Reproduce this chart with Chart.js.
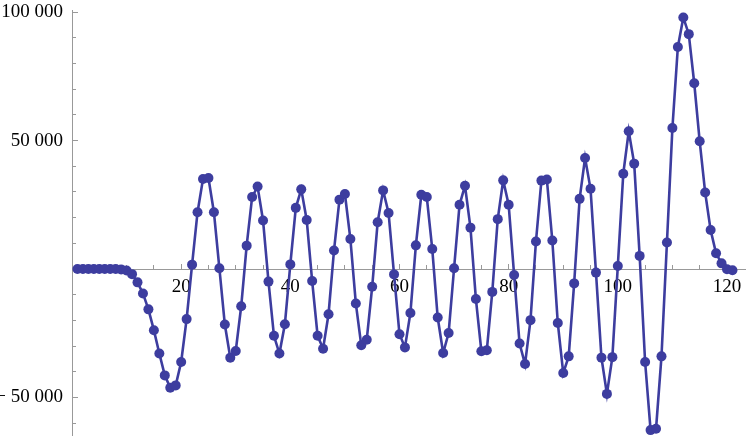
<!DOCTYPE html>
<html>
<head>
<meta charset="utf-8">
<script src="https://cdn.jsdelivr.net/npm/chart.js@4.4.1/dist/chart.umd.min.js"></script>
<style>
html,body{margin:0;padding:0;background:#fff;}
#wrap{width:750px;height:440px;}
</style>
</head>
<body>
<div id="wrap"><canvas id="c" width="750" height="440"></canvas></div>
<script>
const xValues = [
  1,2,3,4,5,6,7,8,9,10,
  11,12,13,14,15,16,17,18,19,20,
  21,22,23,24,25,26,27,28,29,30,
  31,32,33,34,35,36,37,38,39,40,
  41,42,43,44,45,46,47,48,49,50,
  51,52,53,54,55,56,57,58,59,60,
  61,62,63,64,65,66,67,68,69,70,
  71,72,73,74,75,76,77,78,79,80,
  81,82,83,84,85,86,87,88,89,90,
  91,92,93,94,95,96,97,98,99,100,
  101,102,103,104,105,106,107,108,109,110,
  111,112,113,114,115,116,117,118,119,120,
  121
];
const yValues = [
  0,0,0,0,0,0,0,0,-150,-600,
  -2000,-5200,-9500,-15700,-23800,-32900,-41400,-46200,-45300,-36200,
  -19500,1700,22100,35000,35400,22100,300,-21600,-34500,-31900,
  -14500,9100,28000,32100,18900,-4900,-26000,-32900,-21500,1800,
  23800,31000,19100,-4700,-26000,-31000,-17600,7200,27000,29200,
  11700,-13400,-29700,-27500,-6900,18200,30600,21800,-2100,-25400,
  -30500,-17100,9200,28900,28000,7800,-18900,-32700,-24900,300,
  25000,32400,16100,-11700,-32000,-31600,-8900,19400,34500,25000,
  -2300,-29000,-37000,-19900,10700,34400,34800,11100,-21000,-40500,
  -34000,-5600,27300,43200,31200,-1400,-34500,-48600,-34300,1200,
  37100,53600,41000,5100,-36200,-62700,-62200,-34000,10300,54900,
  86400,97900,91400,72300,49700,29800,15200,6100,2200,-100,
  -500
];
// axis ticks
const xMajorTicks = [0, 20, 40, 60, 80, 100, 120];
const xMajorLabels = ['', '20', '40', '60', '80', '100', '120'];
const xMinorTicks = [5, 10, 15, 25, 30, 35, 45, 50, 55, 65, 70, 75, 85, 90, 95, 105, 110, 115];
const yMajorTicks = [-50000, 0, 50000, 100000];
const yMajorLabels = ['\u2212 50 000', '', '50 000', '100 000'];
const yMinorTicks = [-60000, -40000, -30000, -20000, -10000, 10000, 20000, 30000, 40000, 60000, 70000, 80000, 90000];

const markColor = '#3d3d9f';
const axisColor = '#999999';
const labelFont = { family: '"Liberation Serif", "Times New Roman", serif', size: 19 };
const X_MIN = 0, X_MAX = 123.3, Y_MIN = -64600, Y_MAX = 100800;

function zeroPad(s) { s.paddingLeft = 0; s.paddingRight = 0; s.paddingTop = 0; s.paddingBottom = 0; }
function setTicks(list) { return s => { s.ticks = list.map(v => ({ value: v })); }; }
function labelFor(list, labels) { return v => { const i = list.indexOf(v); return i >= 0 ? labels[i] : ''; }; }

new Chart(document.getElementById('c'), {
  type: 'line',
  data: {
    datasets: [{
      data: xValues.map((x, i) => ({ x: x, y: yValues[i] })),
      borderColor: markColor,
      backgroundColor: markColor,
      borderWidth: 2.6,
      pointRadius: 5,
      pointHoverRadius: 5,
      pointBackgroundColor: markColor,
      pointBorderWidth: 0,
      tension: 0,
      clip: false
    }]
  },
  options: {
    responsive: false,
    animation: false,
    events: [],
    layout: { padding: { top: 10, bottom: 5, left: 0, right: 0 } },
    plugins: { legend: { display: false }, tooltip: { enabled: false } },
    scales: {
      x: {
        type: 'linear', axis: 'x', position: { y: 0 },
        min: X_MIN, max: X_MAX,
        border: { display: true, color: axisColor, width: 1 },
        grid: { drawOnChartArea: false, drawTicks: true, tickLength: -6, color: axisColor },
        afterBuildTicks: setTicks(xMajorTicks),
        ticks: {
          autoSkip: false, maxRotation: 0, minRotation: 0,
          padding: 13, color: '#000', font: labelFont,
          callback: labelFor(xMajorTicks, xMajorLabels)
        },
        afterFit: zeroPad
      },
      xMinor: {
        type: 'linear', axis: 'x', position: { y: 0 },
        min: X_MIN, max: X_MAX,
        border: { display: false },
        grid: { drawOnChartArea: false, drawTicks: true, tickLength: -4, color: axisColor },
        afterBuildTicks: setTicks(xMinorTicks),
        ticks: { autoSkip: false, display: false, maxRotation: 0 },
        afterFit: zeroPad
      },
      y: {
        type: 'linear', axis: 'y', position: 'left',
        min: Y_MIN, max: Y_MAX,
        border: { display: true, color: axisColor, width: 1 },
        grid: { drawOnChartArea: false, drawTicks: true, tickLength: -6, color: axisColor },
        afterBuildTicks: setTicks(yMajorTicks),
        ticks: {
          autoSkip: false,
          padding: 15, color: '#000', font: labelFont,
          callback: labelFor(yMajorTicks, yMajorLabels)
        },
        afterFit: s => { s.width = 72; zeroPad(s); }
      },
      yMinor: {
        type: 'linear', axis: 'y', position: { x: 0 },
        min: Y_MIN, max: Y_MAX,
        border: { display: false },
        grid: { drawOnChartArea: false, drawTicks: true, tickLength: -4, color: axisColor },
        afterBuildTicks: setTicks(yMinorTicks),
        ticks: { autoSkip: false, display: false },
        afterFit: zeroPad
      }
    }
  }
});
</script>
</body>
</html>
